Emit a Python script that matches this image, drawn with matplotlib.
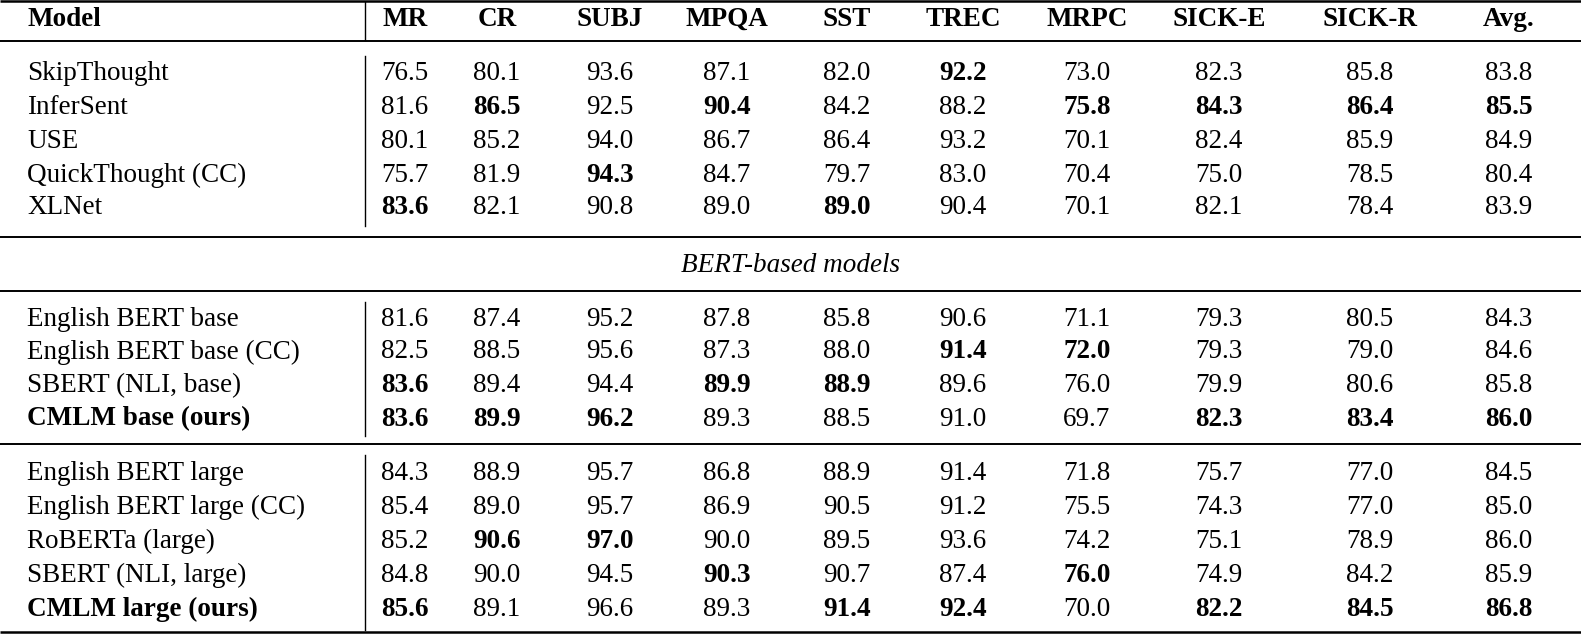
import matplotlib
matplotlib.use("Agg")
import matplotlib.pyplot as plt

COLUMNS = ["MR", "CR", "SUBJ", "MPQA", "SST", "TREC", "MRPC", "SICK-E", "SICK-R", "Avg."]

GROUP1_MODELS = ["SkipThought", "InferSent", "USE", "QuickThought (CC)", "XLNet"]
GROUP1_VALUES = [
    [76.5, 80.1, 93.6, 87.1, 82.0, 92.2, 73.0, 82.3, 85.8, 83.8],
    [81.6, 86.5, 92.5, 90.4, 84.2, 88.2, 75.8, 84.3, 86.4, 85.5],
    [80.1, 85.2, 94.0, 86.7, 86.4, 93.2, 70.1, 82.4, 85.9, 84.9],
    [75.7, 81.9, 94.3, 84.7, 79.7, 83.0, 70.4, 75.0, 78.5, 80.4],
    [83.6, 82.1, 90.8, 89.0, 89.0, 90.4, 70.1, 82.1, 78.4, 83.9],
]
GROUP1_BOLD = [[5], [1, 3, 6, 7, 8, 9], [], [2], [0, 4]]

GROUP2_MODELS = ["English BERT base", "English BERT base (CC)", "SBERT (NLI, base)", "CMLM base (ours)"]
GROUP2_VALUES = [
    [81.6, 87.4, 95.2, 87.8, 85.8, 90.6, 71.1, 79.3, 80.5, 84.3],
    [82.5, 88.5, 95.6, 87.3, 88.0, 91.4, 72.0, 79.3, 79.0, 84.6],
    [83.6, 89.4, 94.4, 89.9, 88.9, 89.6, 76.0, 79.9, 80.6, 85.8],
    [83.6, 89.9, 96.2, 89.3, 88.5, 91.0, 69.7, 82.3, 83.4, 86.0],
]
GROUP2_BOLD = [[], [5, 6], [0, 3, 4], [0, 1, 2, 7, 8, 9]]

GROUP3_MODELS = ["English BERT large", "English BERT large (CC)", "RoBERTa (large)",
                 "SBERT (NLI, large)", "CMLM large (ours)"]
GROUP3_VALUES = [
    [84.3, 88.9, 95.7, 86.8, 88.9, 91.4, 71.8, 75.7, 77.0, 84.5],
    [85.4, 89.0, 95.7, 86.9, 90.5, 91.2, 75.5, 74.3, 77.0, 85.0],
    [85.2, 90.6, 97.0, 90.0, 89.5, 93.6, 74.2, 75.1, 78.9, 86.0],
    [84.8, 90.0, 94.5, 90.3, 90.7, 87.4, 76.0, 74.9, 84.2, 85.9],
    [85.6, 89.1, 96.6, 89.3, 91.4, 92.4, 70.0, 82.2, 84.5, 86.8],
]
GROUP3_BOLD = [[], [], [1, 2], [3, 6], [0, 4, 5, 7, 8, 9]]
BOLD_MODELS = ["CMLM base (ours)", "CMLM large (ours)"]

W, H = 1581, 641
COL_X = [405, 497, 610, 727, 847, 963, 1087, 1219, 1370, 1509]
FS = 19.5
FONT = "Liberation Serif"

fig = plt.figure(figsize=(W / 100, H / 100), dpi=100)
ax = fig.add_axes([0, 0, 1, 1])
ax.set_xlim(0, W)
ax.set_ylim(H, 0)
ax.axis("off")


def txt(x, y, s, bold=False, ha="center", style="normal"):
    ax.text(x, y, s, ha=ha, va="center", fontsize=FS, family=FONT,
            fontweight="bold" if bold else "normal", fontstyle=style)


def hline(y, lw=1.4):
    ax.plot([0, W], [y, y], color="black", lw=lw, solid_capstyle="butt")


def vline(y0, y1):
    ax.plot([365, 365], [y0, y1], color="black", lw=1.0)


# header
txt(27, 19, "Model", bold=True, ha="left")
for x, c in zip(COL_X, COLUMNS):
    txt(x, 19, c, bold=True)
hline(1, 1.8)
hline(41)
vline(2, 40)


def group(models, values, bold, ys):
    for m, vals, b, y in zip(models, values, bold, ys):
        txt(27, y, m, bold=m in BOLD_MODELS, ha="left")
        for i, (x, v) in enumerate(zip(COL_X, vals)):
            txt(x, y, f"{v:.1f}", bold=i in b)


g1_y = [73, 107, 141, 175, 208]
group(GROUP1_MODELS, GROUP1_VALUES, GROUP1_BOLD, g1_y)
vline(56, 226)
hline(237)
txt(W / 2, 266, "BERT-based models", style="italic")
hline(291)
g2_y = [319, 352, 386, 419]
group(GROUP2_MODELS, GROUP2_VALUES, GROUP2_BOLD, g2_y)
vline(302, 436)
hline(444)
g3_y = [473, 507, 541, 575, 609]
group(GROUP3_MODELS, GROUP3_VALUES, GROUP3_BOLD, g3_y)
vline(455, 630)
hline(632, 1.8)

fig.savefig("out.png", dpi=100)
